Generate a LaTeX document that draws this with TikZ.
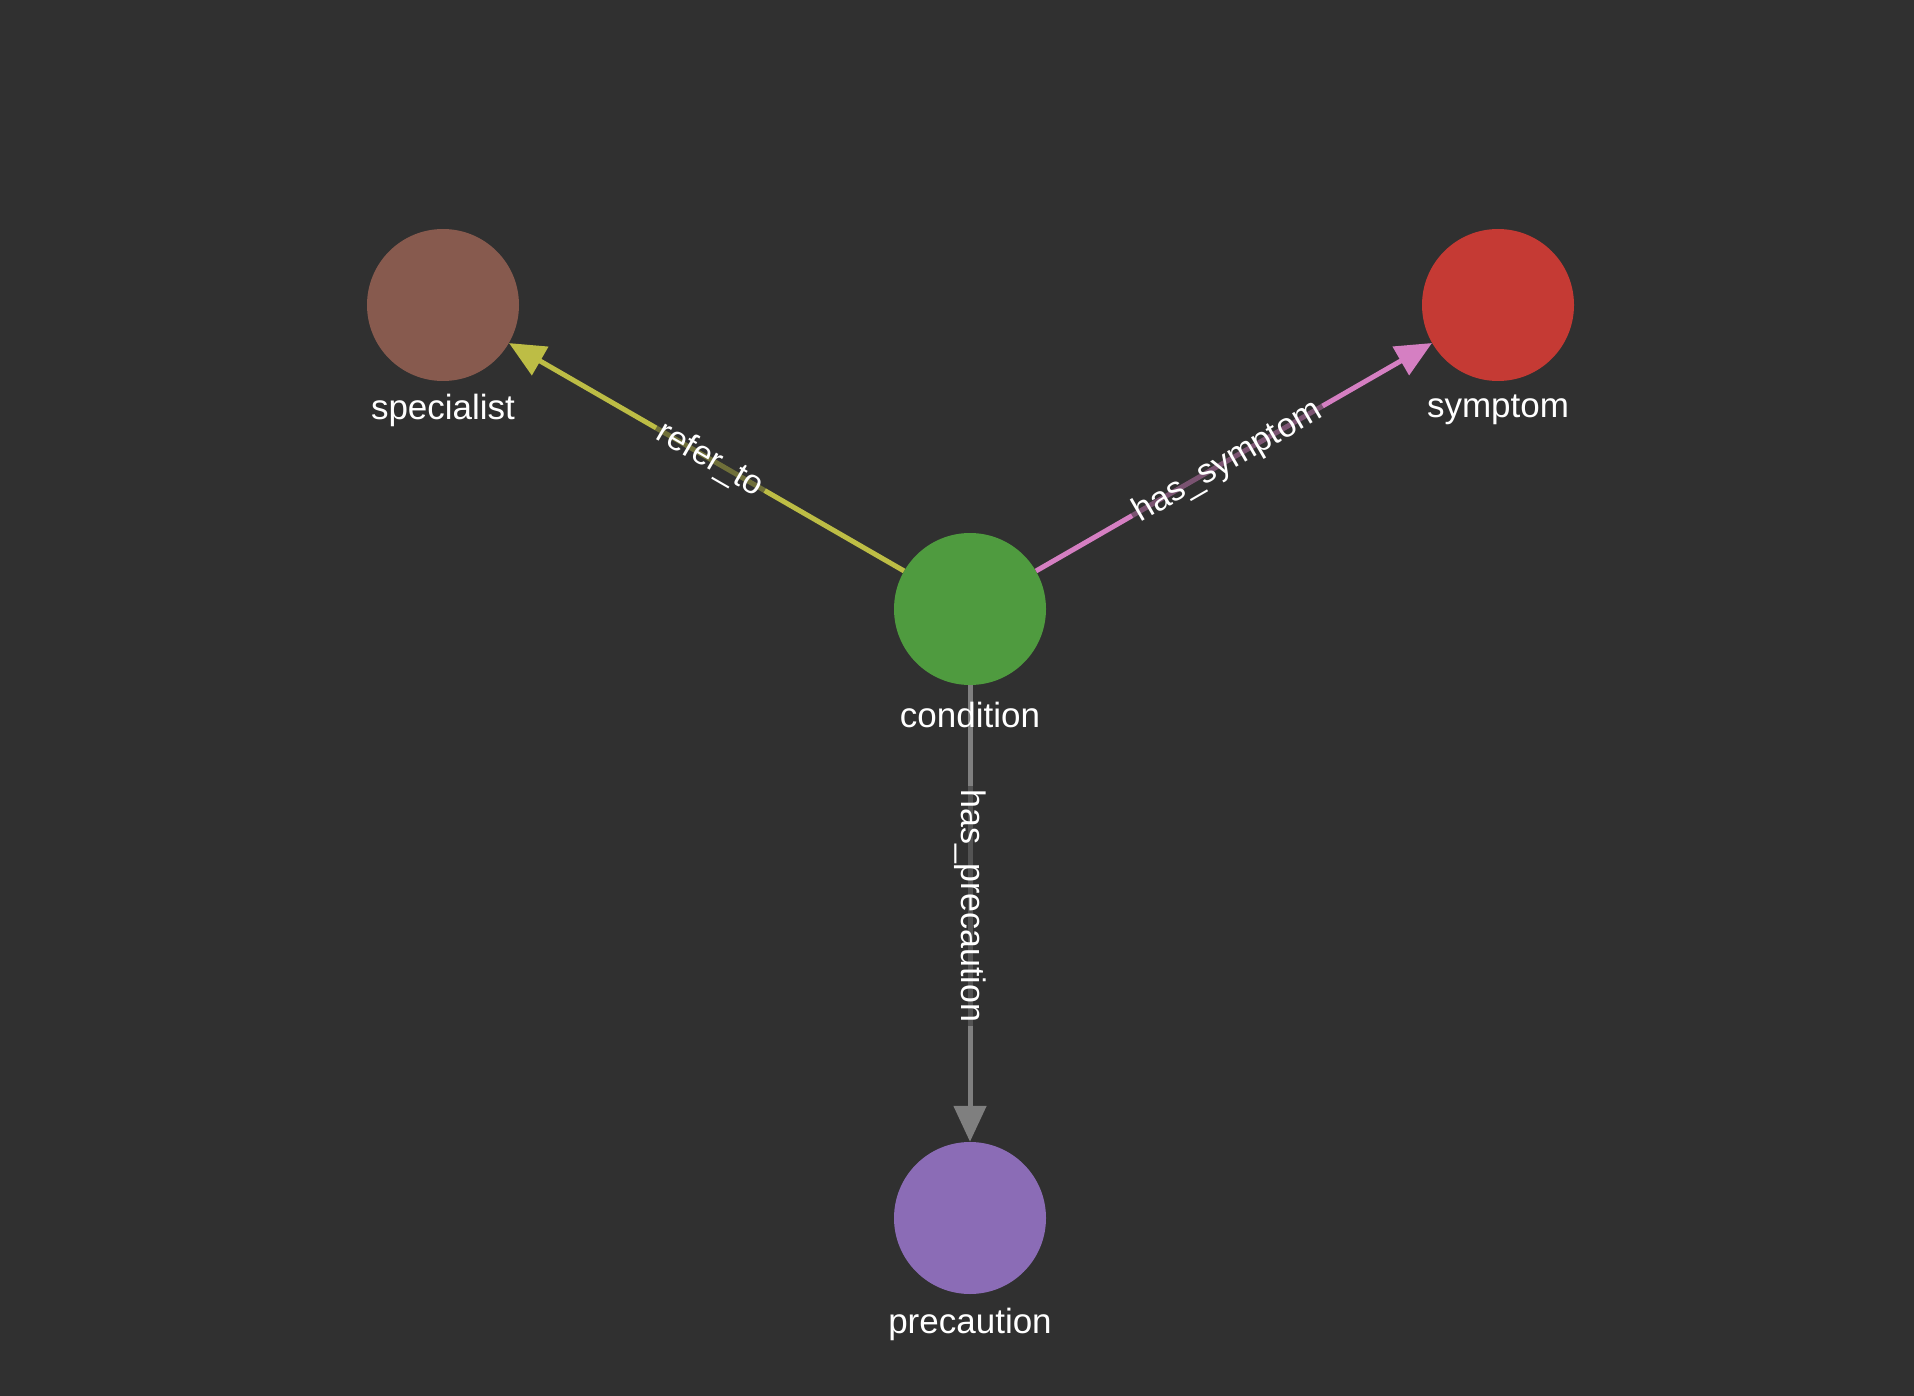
\documentclass[tikz,border=0pt]{standalone}
\usepackage{fontspec}
\setmainfont{Liberation Sans}
\usetikzlibrary{arrows.meta}
\definecolor{bgc}{HTML}{303030}
\definecolor{cspec}{HTML}{875A4E}
\definecolor{csym}{HTML}{C53A34}
\definecolor{ccond}{HTML}{4F9B3F}
\definecolor{cprec}{HTML}{8B6CB6}
\definecolor{eolive}{HTML}{BDBD45}
\definecolor{epink}{HTML}{D57FC2}
\definecolor{egrey}{HTML}{7F7F7F}
\tikzset{
  vertex/.style={circle, minimum size=152pt, inner sep=0pt, draw=none},
  vlabel/.style={text=white, font=\fontsize{35}{38}\selectfont, inner sep=0pt},
  elabel/.style={text=white, font=\fontsize{34}{36}\selectfont, fill=bgc, fill opacity=0.55, text opacity=1, inner sep=4pt},
  link/.style={line width=5pt, -{Triangle[length=36pt, width=32pt]}},
}
\begin{document}
\begin{tikzpicture}[x=1pt, y=-1pt]
\fill[bgc] (0,0) rectangle (1914,1396);
\useasboundingbox (0,0) rectangle (1914,1396);
\node[vertex, fill=cspec] (spec) at (443,305) {};
\node[vertex, fill=csym] (sym) at (1498,305) {};
\node[vertex, fill=ccond] (cond) at (970,609) {};
\node[vertex, fill=cprec] (prec) at (970,1218) {};
\draw[link, eolive] (cond) -- (spec);
\draw[link, epink] (cond) -- (sym);
\draw[link, egrey] (cond) -- (prec);
\node[elabel, rotate=-30] (l1) at (710,460) {refer\_to};
\node[elabel, rotate=30] (l2) at (1228,462) {has\_symptom};
\node[elabel, rotate=-90] (l3) at (970,906) {has\_precaution};
\node[vlabel] (t1) at (443,410) {specialist};
\node[vlabel] (t2) at (1498,410) {symptom};
\node[vlabel] (t3) at (970,715) {condition};
\node[vlabel] (t4) at (970,1324) {precaution};
\end{tikzpicture}
\end{document}
